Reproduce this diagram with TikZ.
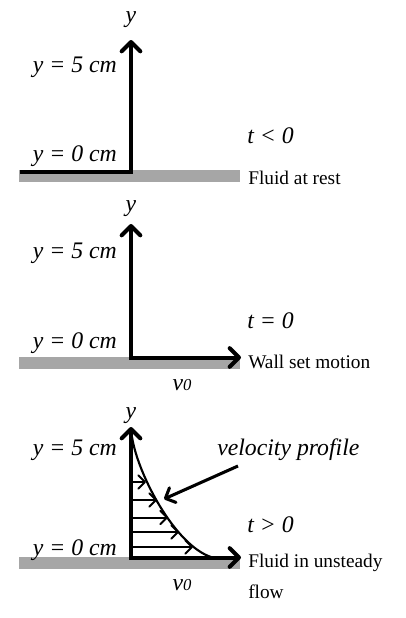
\documentclass[tikz,border=0pt]{standalone}
\usepackage{fontspec}
\setmainfont{Liberation Serif}
\usetikzlibrary{arrows.meta}
\definecolor{wallgray}{RGB}{166,166,166}
\tikzset{
  axisarrow/.style={line width=3pt,line cap=rect,-{Straight Barb[length=7pt,width=14pt,round]}},
  profarrow/.style={line width=1.5pt,-{Straight Barb[length=5pt,width=10pt,round]}},
  pointarrow/.style={line width=2.3pt,-{Straight Barb[length=6pt,width=12pt,round]}},
  mathlbl/.style={font=\fontsize{17.8}{21}\selectfont\itshape,inner sep=0.75pt},
  textlbl/.style={font=\fontsize{14.5}{17}\selectfont,inner sep=0.75pt},
}
\begin{document}
\begin{tikzpicture}[x=0.75pt,y=0.75pt,yscale=-1,xscale=1]
\useasboundingbox (0,0) rectangle (406,618);

%Walls
\fill[wallgray] (19,170) rectangle (240,181.5);
\fill[wallgray] (19,357) rectangle (240,368.5);
\fill[wallgray] (19,557) rectangle (240,568.5);

%Coordinates of the axes
\coordinate (L1) at (20,171.5);
\coordinate (O1) at (131,171.5);
\coordinate (Y1) at (131,40);
\coordinate (O2) at (131,357.5);
\coordinate (Y2) at (131,224);
\coordinate (V2) at (241,357.5);
\coordinate (O3) at (131,557.5);
\coordinate (Y3) at (131,427);
\coordinate (V3) at (241,557.5);

%Straight Lines - t<0
\draw[axisarrow,line cap=butt] (L1) -- (O1) -- (Y1);
%Straight Lines - t=0
\draw[axisarrow] (O2) -- (Y2);
\draw[axisarrow] (O2) -- (V2);
%Straight Lines - t>0
\draw[axisarrow] (O3) -- (Y3);
\draw[axisarrow] (O3) -- (V3);

%Curve - velocity profile
\coordinate (P0) at (132,437);
\coordinate (P3) at (211,557);
\draw[line width=1.6pt] (P0) .. controls (138,475) and (175,545) .. (P3);

%Profile arrows
\coordinate (A1) at (133,482);  \coordinate (B1) at (146,482);
\coordinate (A2) at (133,500);  \coordinate (B2) at (157,500);
\coordinate (A3) at (133,517.5);\coordinate (B3) at (168,517.5);
\coordinate (A4) at (133,532);  \coordinate (B4) at (179,532);
\coordinate (A5) at (133,547);  \coordinate (B5) at (193,547);
\draw[profarrow] (A1) -- (B1);
\draw[profarrow] (A2) -- (B2);
\draw[profarrow] (A3) -- (B3);
\draw[profarrow] (A4) -- (B4);
\draw[profarrow] (A5) -- (B5);

% Text Node
\draw (131,22) node [anchor=base][mathlbl] (yA) {y};
% Text Node
\draw (118,72) node [anchor=base east][mathlbl] (topA) {y = 5 cm};
% Text Node
\draw (118,161) node [anchor=base east][mathlbl] (botA) {y = 0 cm};
% Text Node
\draw (246,143) node [anchor=base west][mathlbl] (tA) {t < 0};
% Text Node
\draw (247,184) node [anchor=base west][textlbl] (restA) {Fluid at rest};

% Text Node
\draw (131,211) node [anchor=base][mathlbl] (yB) {y};
% Text Node
\draw (118,258) node [anchor=base east][mathlbl] (topB) {y = 5 cm};
% Text Node
\draw (118,348) node [anchor=base east][mathlbl] (botB) {y = 0 cm};
% Text Node
\draw (246,328) node [anchor=base west][mathlbl] (tB) {t = 0};
% Text Node
\draw (247,368) node [anchor=base west][textlbl] (wallB) {Wall set motion};
% Text Node
\draw (182,390) node [anchor=base][mathlbl] (vB) {v{\fontsize{12.5}{14}\selectfont 0}};

% Text Node
\draw (131,418) node [anchor=base][mathlbl] (yC) {y};
% Text Node
\draw (118,455) node [anchor=base east][mathlbl] (topC) {y = 5 cm};
% Text Node
\draw (118,555) node [anchor=base east][mathlbl] (botC) {y = 0 cm};
% Text Node
\draw (216,455) node [anchor=base west][mathlbl] (profC) {velocity profile};
% Text Node
\draw (246,532) node [anchor=base west][mathlbl] (tC) {t > 0};
% Text Node
\draw (247,567) node [anchor=base west][textlbl] (flowC) {Fluid in unsteady};
% Text Node
\draw (247,598) node [anchor=base west][textlbl] (flowD) {flow};
% Text Node
\draw (182,590) node [anchor=base][mathlbl] (vC) {v{\fontsize{12.5}{14}\selectfont 0}};

%Pointer to the profile
\coordinate (tail) at (238,466);
\coordinate (head) at (164,499);
\draw[pointarrow] (tail) -- (head);

\end{tikzpicture}
\end{document}
